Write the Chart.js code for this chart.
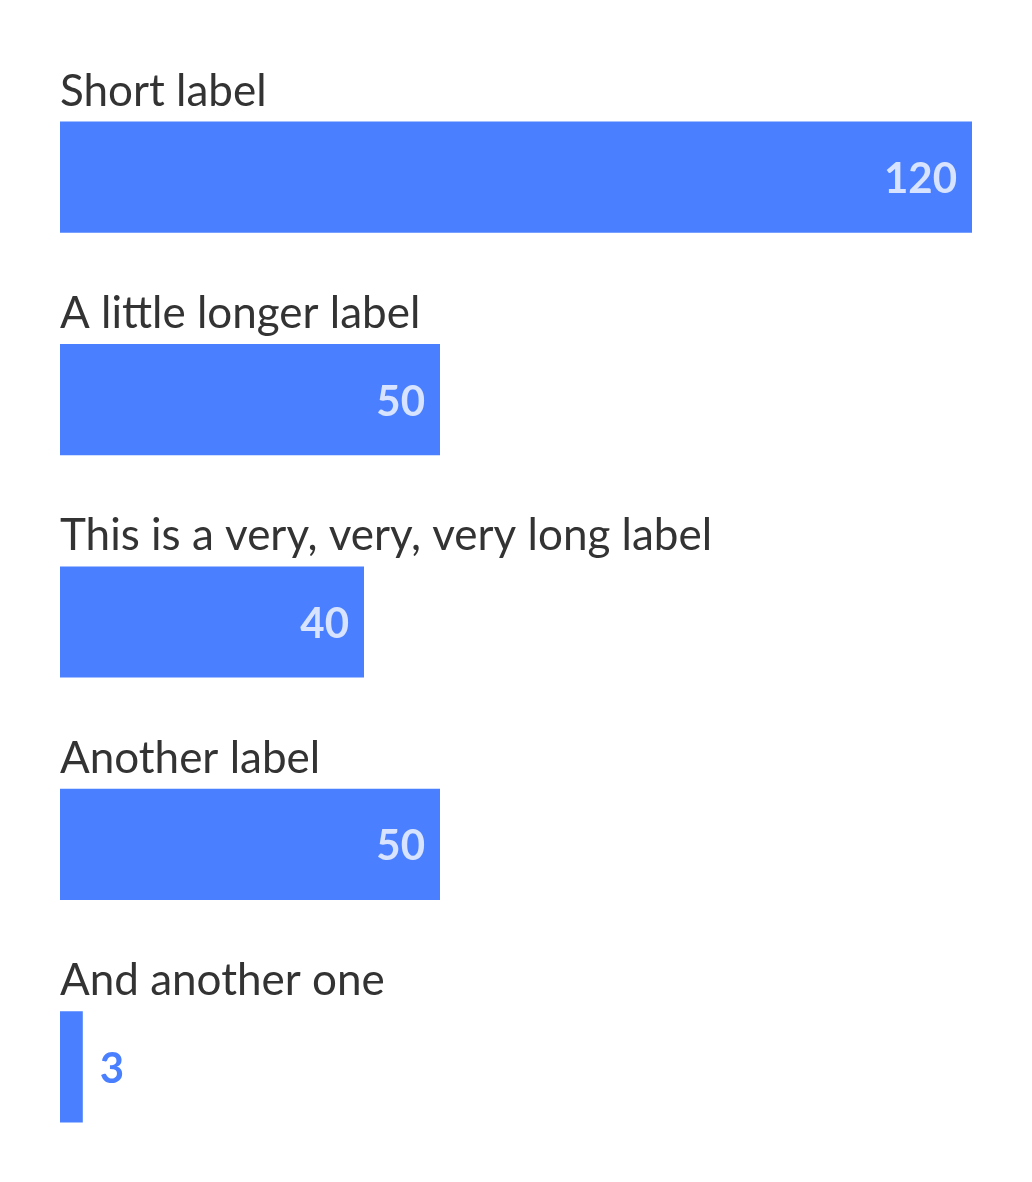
<!DOCTYPE html>
<html>
<head>
<meta charset="utf-8">
<script src="https://cdn.jsdelivr.net/npm/chart.js@4.4.1/dist/chart.umd.min.js"></script>
<style>
html,body{margin:0;padding:0;background:#fff;}
canvas{display:block;}
</style>
</head>
<body>
<canvas id="c" width="1032" height="1182"></canvas>
<script>
const categories = ["Short label", "A little longer label", "This is a very, very, very long label", "Another label", "And another one"];
const values = [120, 50, 40, 50, 3];
const axisMin = 0;
const axisMax = 120;

const BAR_COLOR = '#4a80ff';
const LABEL_COLOR = '#333333';
const VALUE_INSIDE_COLOR = '#d8e4ff';

const labelPlugin = {
  id: 'labelPlugin',
  afterDatasetsDraw(chart) {
    const ctx = chart.ctx;
    const meta = chart.getDatasetMeta(0);
    ctx.save();
    meta.data.forEach((bar, i) => {
      const top = bar.y - bar.height / 2;
      ctx.font = '44px Lato';
      ctx.fillStyle = LABEL_COLOR;
      ctx.textAlign = 'left';
      ctx.textBaseline = 'alphabetic';
      ctx.fillText(chart.data.labels[i], bar.base, top - 16);

      const txt = String(chart.data.datasets[0].data[i]);
      ctx.font = 'bold 42px Lato';
      const w = ctx.measureText(txt).width;
      const barW = bar.x - bar.base;
      const baseY = bar.y + 16;
      if (barW > w + 30) {
        ctx.fillStyle = VALUE_INSIDE_COLOR;
        ctx.textAlign = 'right';
        ctx.fillText(txt, bar.x - 15, baseY);
      } else {
        ctx.fillStyle = BAR_COLOR;
        ctx.textAlign = 'left';
        ctx.fillText(txt, bar.x + 17, baseY);
      }
    });
    ctx.restore();
  }
};

new Chart(document.getElementById('c'), {
  type: 'bar',
  data: {
    labels: categories,
    datasets: [{
      data: values,
      backgroundColor: BAR_COLOR,
      borderWidth: 0,
      barPercentage: 1,
      categoryPercentage: 0.5
    }]
  },
  options: {
    indexAxis: 'y',
    responsive: false,
    animation: false,
    devicePixelRatio: 1,
    layout: { padding: { left: 60, right: 60, top: 66, bottom: 4 } },
    scales: {
      x: { display: false, min: axisMin, max: axisMax },
      y: { display: false }
    },
    plugins: { legend: { display: false }, tooltip: { enabled: false } }
  },
  plugins: [labelPlugin]
});
</script>
</body>
</html>
